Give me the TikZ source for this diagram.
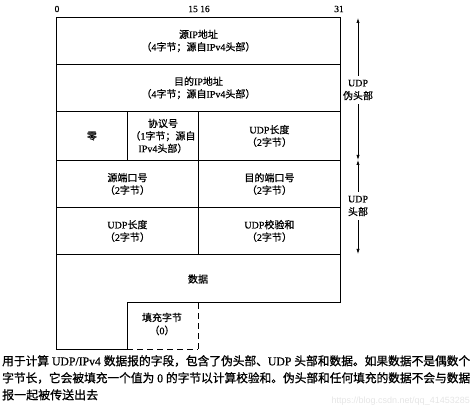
\documentclass[tikz,border=0pt]{standalone}
\usepackage{fontspec}
\setmainfont{Liberation Serif}[FakeBold=0.6,UprightFeatures={FakeBold=0.6}]
\newfontfamily\cjk{Noto Sans CJK SC}[FakeBold=0.8,UprightFeatures={FakeBold=0.8}]
\newfontfamily\wmfont{Liberation Sans}
\usetikzlibrary{arrows.meta}
\begin{document}
\begin{tikzpicture}[x=1pt,y=-1pt,
  cell/.style={draw, line width=0.9pt, anchor=north west, inner sep=0pt, align=center,
    font=\fontsize{10}{12.5}\selectfont},
  lbl/.style={inner sep=0pt, align=center, font=\fontsize{10}{13}\selectfont},
  bit/.style={inner sep=0pt, font=\fontsize{9.5}{10}\selectfont},
  dim/.style={line width=0.7pt, -{Latex[length=5pt,width=3.2pt]}},
  padline/.style={line width=0.8pt, dash pattern=on 6pt off 4pt},
]
\useasboundingbox (0,0) rectangle (474,411);
% bit positions
\node[bit] (b0) at (57,9) {0};
\node[bit] (b15) at (199,9) {15 16};
\node[bit] (b31) at (339,9) {31};
% rows
\node[cell, minimum width=284pt, minimum height=47pt] (srcip) at (56,17)
  {{\cjk 源}IP{\cjk 地址}\\{\cjk （}4{\cjk 字节；源自}IPv4{\cjk 头部）}};
\node[cell, minimum width=284pt, minimum height=47pt] (dstip) at (56,64)
  {{\cjk 目的}IP{\cjk 地址}\\{\cjk （}4{\cjk 字节；源自}IPv4{\cjk 头部）}};
\node[cell, minimum width=71pt, minimum height=49pt] (zero) at (56,111) {{\cjk 零}};
\node[cell, minimum width=71pt, minimum height=49pt] (proto) at (127,111)
  {{\cjk 协议号}\\{\cjk （}1{\cjk 字节；源自}\\IPv4{\cjk 头部）}};
\node[cell, minimum width=142pt, minimum height=49pt] (udplen1) at (198,111)
  {UDP{\cjk 长度}\\{\cjk （}2{\cjk 字节）}};
\node[cell, minimum width=142pt, minimum height=47pt] (srcport) at (56,160)
  {{\cjk 源端口号}\\{\cjk （}2{\cjk 字节）}};
\node[cell, minimum width=142pt, minimum height=47pt] (dstport) at (198,160)
  {{\cjk 目的端口号}\\{\cjk （}2{\cjk 字节）}};
\node[cell, minimum width=142pt, minimum height=47pt] (udplen2) at (56,207)
  {UDP{\cjk 长度}\\{\cjk （}2{\cjk 字节）}};
\node[cell, minimum width=142pt, minimum height=47pt] (chksum) at (198,207)
  {UDP{\cjk 校验和}\\{\cjk （}2{\cjk 字节）}};
% data area
\draw[line width=0.9pt] (56,254) -- (340,254) -- (340,302) -- (127,302) -- (127,349) -- (56,349) -- cycle;
\node[lbl] (data) at (198,279) {{\cjk 数据}};
% padding
\draw[padline] (127,349) -- (198,349);
\draw[padline] (198,349) -- (198,302);
\node[lbl] (pad) at (162,324) {{\cjk 填充字节}\\{\cjk （}0{\cjk ）}};
% side annotations
\node[lbl] (pseudo) at (358,90) {UDP\\{\cjk 伪头部}};
\node[lbl] (hdr) at (358,206) {UDP\\{\cjk 头部}};
\coordinate (ptop) at (358,18);
\coordinate (pmid) at (358,160);
\coordinate (hbot) at (358,254);
\draw[dim, shorten <=4pt] (pseudo.north) -- (ptop);
\draw[dim, shorten <=4pt] (pseudo.south) -- (pmid);
\draw[dim, shorten <=4pt] (hdr.north) -- (pmid);
\draw[dim, shorten <=4pt] (hdr.south) -- (hbot);
% caption
\node[anchor=north west, inner sep=0pt, align=left, font=\fontsize{12}{17}\selectfont] (cap) at (2,355)
  {\resizebox{468pt}{\height}{{\cjk 用于计算} UDP/IPv4 {\cjk 数据报的字段，包含了伪头部、}UDP {\cjk 头部和数据。如果数据不是偶数个}}\\
   \resizebox{468pt}{\height}{{\cjk 字节长，它会被填充一个值为} 0 {\cjk 的字节以计算校验和。伪头部和任何填充的数据不会与数据}}\\
   {\cjk 报一起被传送出去}};
\node[anchor=east, inner sep=0pt, text=black!10, font=\wmfont\fontsize{9}{10}\selectfont] (wm) at (470,401)
  {https://blog.csdn.net/qq\_41453285};
\end{tikzpicture}
\end{document}
